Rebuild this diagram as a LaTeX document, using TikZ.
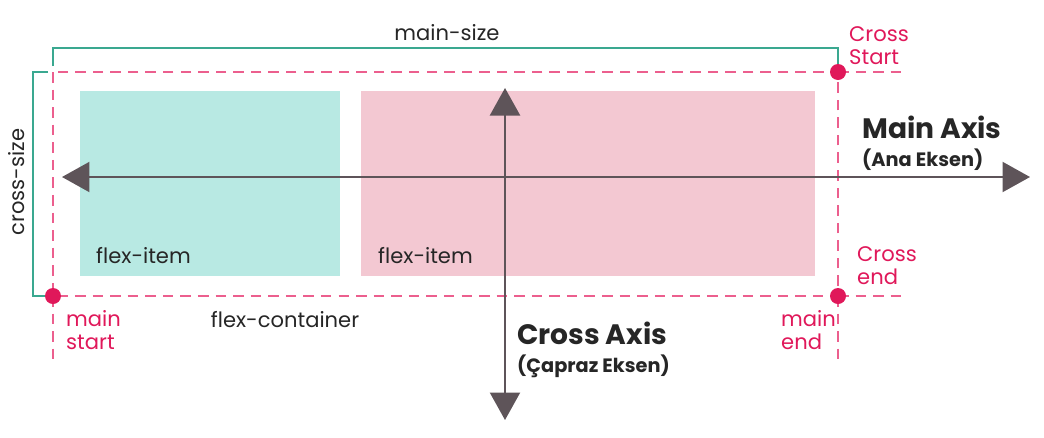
\documentclass[tikz,border=0pt]{standalone}
\usepackage{fontspec}
\setmainfont{Poppins}
\usetikzlibrary{arrows.meta}
\definecolor{tealc}{HTML}{3AA890}
\definecolor{redc}{HTML}{E0185A}
\definecolor{pinkd}{HTML}{EC5F8E}
\definecolor{axisc}{HTML}{5E5459}
\definecolor{itema}{HTML}{B8E9E3}
\definecolor{itemb}{HTML}{F3C8D2}
\begin{document}
\begin{tikzpicture}[
		x=0.02cm, y=-0.02cm,
		>={Triangle[length=0.55cm,width=0.6cm]},
		every node/.style={font=\fontsize{12}{14}\selectfont, text=black!85},
		redlabel/.style={text=redc, align=left, font=\fontsize{12}{13}\selectfont},
		guide/.style={pinkd, dash pattern=on 6pt off 4pt, line width=1pt},
		dot/.style={circle, fill=redc, inner sep=0pt, minimum size=0.32cm},
		axis/.style={axisc, line width=1.3pt, <->},
		title/.style={anchor=west, font=\fontsize{16}{16}\bfseries\selectfont},
		subtitle/.style={anchor=west, font=\fontsize{11}{11}\bfseries\selectfont}
	]
		\useasboundingbox (0,0) rectangle (1044,437);

		% Items
		\fill[itema] (80,91) rectangle (340,276);
		\fill[itemb] (361,91) rectangle (815,276);
		\node[anchor=west] (item1) at (90,256) {flex-item};
		\node[anchor=west] (item2) at (372,256) {flex-item};

		% Container
		\draw[guide] (53,72) rectangle (838,296);
		\draw[guide] (838,72) -- (905,72);
		\draw[guide] (838,296) -- (905,296);
		\draw[guide] (53,296) -- (53,360);
		\draw[guide] (838,296) -- (838,360);
		\node (container) at (285,320) {flex-container};

		% Sizes
		\draw[tealc, line width=1.5pt] (53,66) -- (53,48) -- (838,48) -- (838,66);
		\node (msize) at (447,33) {main-size};
		\draw[tealc, line width=1.5pt] (48,72) -- (33,72) -- (33,296) -- (48,296);
		\node[rotate=90] (csize) at (17,182) {cross-size};

		% Axes
		\coordinate (mL) at (62,177);
		\coordinate (mR) at (1030,177);
		\coordinate (cT) at (505,88);
		\coordinate (cB) at (505,420);
		\draw[axis] (mL) -- (mR);
		\draw[axis] (cT) -- (cB);
		\node[title] (mainaxis) at (856,127) {Main Axis};
		\node[subtitle] (anaeksen) at (856,160) {(Ana Eksen)};
		\node[title] (crossaxis) at (511,333) {Cross Axis};
		\node[subtitle] (capraz) at (511,366) {(Çapraz Eksen)};

		% Corners
		\node[dot] (cs) at (838,72) {};
		\node[dot] (ms) at (53,296) {};
		\node[dot] (me) at (838,296) {};
		\node[redlabel, anchor=west] (crossstart) at (843,46) {Cross\\Start};
		\node[redlabel, anchor=west] (crossend) at (851,266) {Cross\\end};
		\node[redlabel, anchor=west] (mainstart) at (60,330) {main\\start};
		\node[redlabel, anchor=west] (mainend) at (775,330) {main\\end};
	\end{tikzpicture}
\end{document}
